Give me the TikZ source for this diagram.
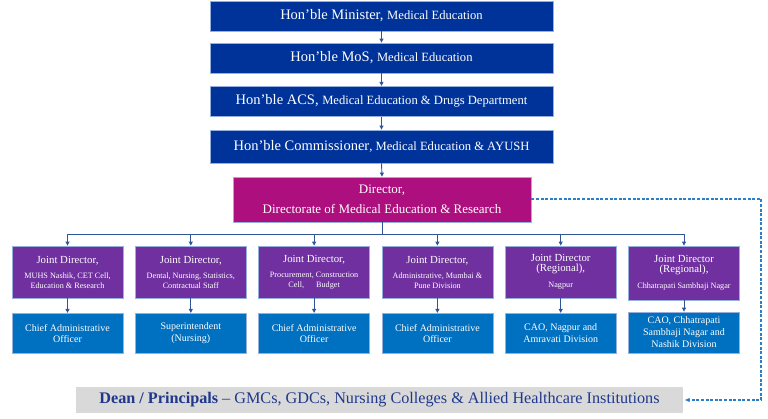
\documentclass[tikz,border=0pt]{standalone}
\usepackage{fontspec}
\setmainfont{Liberation Serif}
\usetikzlibrary{arrows.meta}
\definecolor{navybox}{RGB}{0,51,153}
\definecolor{purplebox}{RGB}{112,48,160}
\definecolor{magbox}{RGB}{174,15,126}
\definecolor{bluebox}{RGB}{0,112,192}
\definecolor{graybox}{RGB}{217,217,217}
\definecolor{edgec}{RGB}{150,175,220}
\definecolor{linec}{RGB}{47,85,151}
\definecolor{dashc}{RGB}{46,125,200}
\definecolor{deantext}{RGB}{31,56,140}
\newcommand\fsBig{\fontsize{14.5}{17}\selectfont}
\newcommand\fsSmall{\fontsize{12.6}{15}\selectfont}
\newcommand\fsJD{\fontsize{10.8}{13}\selectfont}
\newcommand\fsTiny{\fontsize{8.2}{10}\selectfont}
\tikzset{
  box/.style={draw=edgec, line width=0.8pt, text=white, align=center, inner sep=0pt, anchor=center},
  topbox/.style={box, fill=navybox, minimum width=343pt},
  dirbox/.style={box, fill=magbox, minimum width=298pt, minimum height=45pt, font=\fontsize{13}{20.5}\selectfont},
  jdbox/.style={box, fill=purplebox, minimum width=111pt, minimum height=52pt, font=\fsTiny},
  cbox/.style={box, fill=bluebox, minimum width=111pt, minimum height=40pt, font=\fontsize{10}{11.5}\selectfont},
  deanbox/.style={fill=graybox, minimum width=607pt, minimum height=26pt, inner sep=0pt, text=deantext, font=\fontsize{16.2}{19}\selectfont},
  conn/.style={draw=linec, line width=0.9pt, -{Triangle[length=4pt,width=4pt]}},
  plain/.style={draw=linec, line width=0.9pt},
  dashconn/.style={draw=dashc, line width=1.3pt, dash pattern=on 3pt off 1.6pt}
}
\begin{document}
\begin{tikzpicture}[x=1pt,y=-1pt]
\useasboundingbox (0,0) rectangle (768,419);
% top chain
\node[topbox, minimum height=30pt] (min) at (381.5,16) {\fsBig Hon'ble Minister, {\fsSmall Medical Education}};
\node[topbox, minimum height=30pt] (mos) at (381.5,58) {\fsBig Hon'ble MoS, {\fsSmall Medical Education}};
\node[topbox, minimum height=30pt] (acs) at (381.5,101.3) {\fsBig Hon'ble ACS, {\fsSmall Medical Education \& Drugs Department}};
\node[topbox, minimum height=33pt] (com) at (381.5,146.5) {\fsBig Hon'ble Commissioner{\fsSmall , Medical Education \& AYUSH}};
\node[dirbox] (dir) at (382,199.5) {Director,\\Directorate of Medical Education \& Research};
\draw[conn] (min) -- (mos);
\draw[conn] (mos) -- (acs);
\draw[conn] (acs) -- (com);
\draw[conn] (com.south) -- (dir.north);
% joint directors
\node[jdbox] (j1) at (67.5,272) {{\fsJD Joint Director,}\\[5pt]MUHS Nashik, CET Cell,\\Education \& Research};
\node[jdbox] (j2) at (190.8,272) {{\fsJD Joint Director,}\\[5pt]Dental, Nursing, Statistics,\\Contractual Staff};
\node[jdbox] (j3) at (314.1,272) {{\fsJD Joint Director,}\\[5pt]Procurement, Construction\\Cell,\hspace{12pt}Budget};
\node[jdbox] (j4) at (437.4,272) {{\fsJD Joint Director,}\\[5pt]Administrative, Mumbai \&\\Pune Division};
\node[jdbox] (j5) at (560.7,272) {{\fsJD Joint Director}\\[0pt]{\fsJD (Regional),}\\[6pt]Nagpur};
\node[jdbox, minimum height=54pt] (j6) at (684,273) {{\fsJD Joint Director}\\[0pt]{\fsJD (Regional),}\\[6pt]Chhatrapati Sambhaji Nagar};
% bottom boxes
\node[cbox] (c1) at (67.5,333.3) {Chief Administrative\\Officer};
\node[cbox] (c2) at (190.8,333.3) {Superintendent\\(Nursing)};
\node[cbox] (c3) at (314.1,333.3) {Chief Administrative\\Officer};
\node[cbox] (c4) at (437.4,333.3) {Chief Administrative\\Officer};
\node[cbox] (c5) at (560.7,333.3) {CAO, Nagpur and\\Amravati Division};
\node[cbox, minimum height=41pt, font=\fontsize{10}{12}\selectfont] (c6) at (684,332.5) {CAO, Chhatrapati\\Sambhaji Nagar and\\Nashik Division};
% director to joint directors
\coordinate (bus) at (382,234);
\draw[plain] (dir.south) -- (bus);
\draw[plain] (j1.north |- bus) -- (j6.north |- bus);
\foreach \i in {1,...,6}{
  \draw[conn] (j\i.north |- bus) -- (j\i.north);
  \draw[conn] (j\i.south) -- (c\i.north);
}
% dean box
\node[deanbox] (dean) at (379.5,400) {\textbf{Dean / Principals} -- GMCs, GDCs, Nursing Colleges \& Allied Healthcare Institutions};
\coordinate (dr) at (761,199);
\draw[dashconn] (dir.east |- dr) -- (dr) -- (dr |- dean.east) -- ([xshift=4pt]dean.east);
\draw[draw=none, fill=dashc] ([xshift=2pt]dean.east) -- ++(4.5,-2.2) -- ++(0,4.4) -- cycle;
\end{tikzpicture}
\end{document}
